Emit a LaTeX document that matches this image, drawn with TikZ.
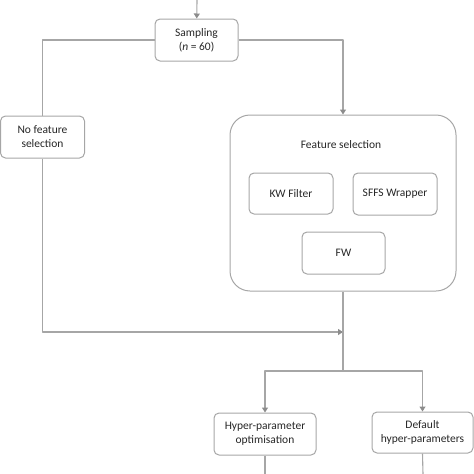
\documentclass[tikz,border=0pt]{standalone}
\usepackage{fontspec}
\setmainfont{Carlito}
\usetikzlibrary{arrows.meta}
\definecolor{linegray}{HTML}{A6A6A6}
\definecolor{tipgray}{HTML}{8C8C8C}
\definecolor{textgray}{HTML}{262626}
\begin{document}
\begin{tikzpicture}[x=1pt,y=-1pt,>={Triangle[length=5pt,width=6pt,color=tipgray]},line join=round,
	font=\fontsize{11.5}{14}\selectfont,text=textgray]
	\tikzset{
		box/.style={draw=linegray,line width=1pt,rounded corners=5pt,align=center,inner sep=0pt},
		conn/.style={draw=linegray,line width=1.1pt},
	}
	\useasboundingbox (0,0) rectangle (474,474);
	% boxes
	\node[box,minimum width=83pt,minimum height=42pt] (samp) at (196.5,40) {Sampling\\(\textit{n} = 60)};
	\node[box,minimum width=84pt,minimum height=42pt] (nofs) at (42.5,137) {No feature\\selection};
	\node[box,rounded corners=20pt,minimum width=226pt,minimum height=176pt] (fs) at (343,203) {};
	\node (fstitle) at (341,145) {Feature selection};
	\node[box,minimum width=84pt,minimum height=41pt] (kw) at (291,193.5) {KW Filter};
	\node[box,minimum width=84pt,minimum height=42pt] (sffs) at (395,194) {SFFS Wrapper};
	\node[box,minimum width=83pt,minimum height=42pt] (fw) at (343.5,253) {FW};
	\node[box,minimum width=102pt,minimum height=42pt] (hyp) at (265,434) {Hyper-parameter\\optimisation};
	\node[box,minimum width=101pt,minimum height=41pt] (dflt) at (422.5,432.5) {Default\\hyper-parameters};
	% connectors
	\coordinate (in) at (197,0);
	\coordinate (merge) at (343,332);
	\coordinate (split) at (343,371);
	\coordinate (outa) at (265,474);
	\coordinate (outb) at (423,474);
	\draw[conn,->] (in)--(samp);
	\draw[conn] (samp.west)-|(nofs.north);
	\draw[conn,->] (samp.east)-|(fs.north);
	\draw[conn,->] (nofs.south)|-(merge);
	\draw[conn] (fs.south)--(split);
	\draw[conn,->] (split)-|(hyp.north);
	\draw[conn,->] (split)-|(dflt.north);
	\draw[conn] (hyp.south)--(outa);
	\draw[conn] (dflt.south)--(outb);
\end{tikzpicture}
\end{document}
